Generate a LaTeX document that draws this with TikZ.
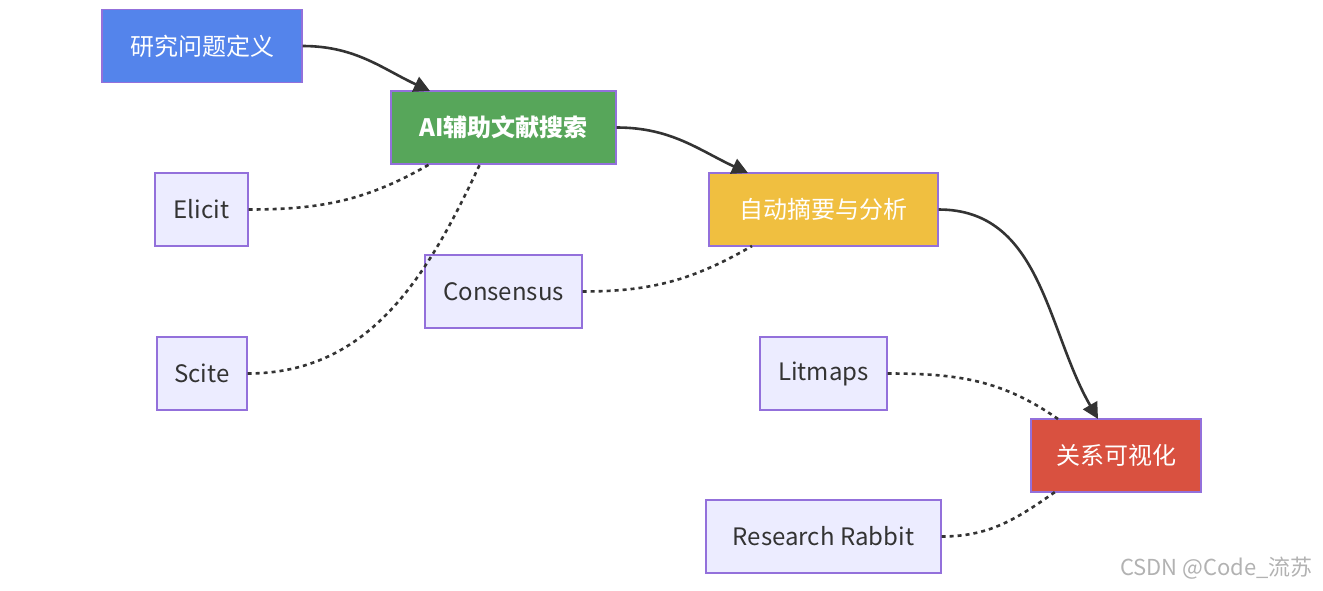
\documentclass[tikz,border=0pt]{standalone}
\usepackage{fontspec}
\setmainfont{Noto Sans CJK SC}
\usetikzlibrary{arrows.meta}
\definecolor{bl}{HTML}{5484EB}
\definecolor{gr}{HTML}{57A65A}
\definecolor{ye}{HTML}{F0BF40}
\definecolor{rd}{HTML}{D95140}
\definecolor{lv}{HTML}{ECECFF}
\definecolor{bd}{HTML}{9370DB}
\definecolor{ln}{HTML}{333333}
\begin{document}
\begin{tikzpicture}[x=0.5pt,y=-0.5pt,
 box/.style={draw=bd,line width=0.6pt,minimum height=36.5pt,inner sep=0pt,font=\fontsize{12}{14}\selectfont},
 main/.style={box,text=white},
 sub/.style={box,fill=lv,text=ln},
 sol/.style={draw=ln,line width=1.3pt,-{Triangle[length=8pt,width=8pt]}},
 dot/.style={draw=ln,line width=1.3pt,dash pattern=on 2pt off 2pt}]
\useasboundingbox (0,0) rectangle (1323,590);
\node[main,fill=bl,minimum width=100pt] (q) at (202,46) {研究问题定义};
\node[main,fill=gr,minimum width=112.5pt,font=\fontsize{12}{14}\selectfont\bfseries] (ai) at (503.5,127.5) {AI辅助文献搜索};
\node[main,fill=ye,minimum width=114.5pt] (au) at (823.5,209.5) {自动摘要与分析};
\node[main,fill=rd,minimum width=85pt] (rv) at (1116,455.5) {关系可视化};
\node[sub,minimum width=46.5pt] (el) at (201.5,209.5) {Elicit};
\node[sub,minimum width=45pt] (sc) at (202,373.5) {Scite};
\node[sub,minimum width=78.5pt] (co) at (503.5,291.5) {Consensus};
\node[sub,minimum width=63.5pt] (li) at (823.5,373.5) {Litmaps};
\node[sub,minimum width=117.5pt] (rr) at (823.5,536.5) {Research Rabbit};
\coordinate (a1) at (430,91); \coordinate (a2) at (748,173); \coordinate (a3) at (1098,419);
\draw[sol] (q.east) to[out=0,in=155] (a1);
\draw[sol] (ai.east) to[out=0,in=155] (a2);
\draw[sol] (au.east) to[out=0,in=120] (a3);
\draw[dot] (el.east) to[out=0,in=-150] (430,164);
\draw[dot] (sc.east) to[out=0,in=-115] (480,164);
\draw[dot] (co.east) to[out=0,in=-150] (752,246);
\draw[dot] (li.east) to[out=0,in=145] (1058,419);
\draw[dot] (rr.east) to[out=0,in=-145] (1055,492);
\node[text=gray!60,font=\fontsize{11}{13}\selectfont,anchor=east] (wm) at (1320,568) {CSDN @Code\_流苏};
\end{tikzpicture}
\end{document}
